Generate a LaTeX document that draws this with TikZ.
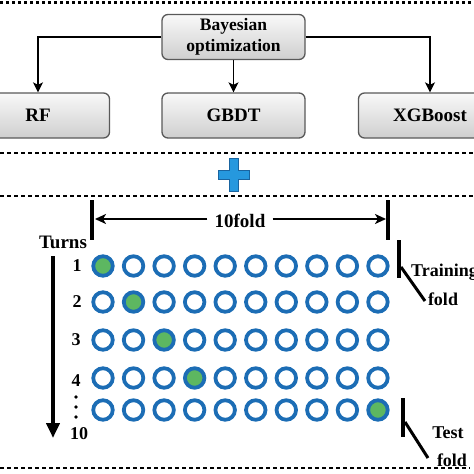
\documentclass[tikz,border=0pt]{standalone}
\usepackage{fontspec}
\setmainfont{Liberation Serif}
\usetikzlibrary{arrows.meta}
\definecolor{cblue}{RGB}{28,109,181}
\definecolor{cgreen}{RGB}{93,183,97}
\definecolor{pfill}{RGB}{38,152,222}
\definecolor{pedge}{RGB}{25,100,160}
\begin{document}
\begin{tikzpicture}[x=1pt,y=-1pt,
 box/.style={draw=black!65, line width=1.3pt, rounded corners=6pt, top color=gray!5, bottom color=gray!38, minimum width=143pt, minimum height=45pt, inner sep=0pt, align=center, font=\fontsize{19}{21}\selectfont\bfseries},
 conn/.style={line width=1.4pt, -{Stealth[length=10pt,width=10pt,inset=2.5pt]}},
 ring/.style={circle, draw=cblue, line width=3.8pt, minimum size=19.5pt, inner sep=0pt, fill=white},
 hit/.style={ring, fill=cgreen},
 lbl/.style={font=\fontsize{18}{20}\selectfont\bfseries, inner sep=0pt},
 bar/.style={line width=3.5pt},
 sep/.style={line width=1.4pt, dash pattern=on 4pt off 3pt}]
\useasboundingbox (0,0) rectangle (474,474);
% separators
\draw[line width=3pt, dash pattern=on 3pt off 3pt] (0,2) -- (474,2);
\draw[sep] (0,153) -- (474,153);
\draw[sep] (0,196) -- (474,196);
\draw[sep] (0,468) -- (470,468);
% boxes
\node[box, font=\fontsize{17.5}{21.5}\selectfont\bfseries] (bo) at (233.5,37) {Bayesian\\optimization};
\node[box] (rf) at (38,115.5) {RF};
\node[box] (gb) at (233.5,115.5) {GBDT};
\node[box] (xg) at (430,115.5) {XGBoost};
\draw[conn] (bo.west) -| (rf.north);
\draw[conn] (bo.south) -- (gb.north);
\draw[conn] (bo.east) -| (xg.north);
% plus
\draw[draw=pedge, fill=pfill, line width=0.8pt] (229,158) -- (238,158) -- (238,170) -- (249,170) -- (249,179) -- (238,179) -- (238,191) -- (229,191) -- (229,179) -- (218,179) -- (218,170) -- (229,170) -- cycle;
% 10fold
\coordinate (lbt) at (92,200); \coordinate (lbb) at (92,240);
\coordinate (rbt) at (388,200); \coordinate (rbb) at (388,240);
\draw[bar] (lbt) -- (lbb);
\draw[bar] (rbt) -- (rbb);
\coordinate (la) at (95,219); \coordinate (ra) at (386,219);
\node[lbl, font=\fontsize{19}{21}\selectfont\bfseries, inner xsep=7pt] (tf) at (240,221) {10fold};
\draw[line width=2.8pt, -{Stealth[length=11pt,width=10pt,inset=3pt]}] (tf.west |- la) -- (la);
\draw[line width=2.8pt, -{Stealth[length=11pt,width=10pt,inset=3pt]}] (tf.east |- ra) -- (ra);
% turns
\node[lbl, font=\fontsize{19}{21}\selectfont\bfseries] (turns) at (63,242) {Turns};
\coordinate (ts) at (53,256); \coordinate (te) at (53,438);
\draw[line width=4pt, -{Triangle[length=15pt,width=13pt]}] (ts) -- (te);
\node[lbl] (n1) at (77,266) {1};
\node[lbl] (n2) at (77,302) {2};
\node[lbl] (n3) at (76,340) {3};
\node[lbl] (n4) at (76,381) {4};
\foreach \yy [count=\k] in {397,407,417} \fill (76,\yy) circle (1.8pt);
\node[lbl] (n10) at (79,434) {10};
% circles
\foreach \r/\yy/\h in {1/266/1,2/302/2,3/340/3,4/378/4,5/410/10}{
  \foreach \c in {1,...,10}{
    \pgfmathtruncatemacro{\hh}{\c==\h ? 1 : 0}
    \ifnum\hh=1
      \node[hit] (c\r-\c) at ({103+30.55*(\c-1)},\yy) {};
    \else
      \node[ring] (c\r-\c) at ({103+30.55*(\c-1)},\yy) {};
    \fi
  }
}
% training fold
\coordinate (trt) at (399,240); \coordinate (trb) at (399,278);
\draw[bar] (trt) -- (trb);
\coordinate (tr1) at (401,267); \coordinate (tr2) at (425,301);
\draw[line width=3pt] (tr1) -- (tr2);
\node[lbl, anchor=west] (train) at (411,272) {Training};
\node[lbl] (fold1) at (443,299) {fold};
% test fold
\coordinate (tst) at (403,398); \coordinate (tsb) at (403,437);
\draw[bar] (tst) -- (tsb);
\coordinate (ts1) at (405,422); \coordinate (ts2) at (428,458);
\draw[line width=3pt] (ts1) -- (ts2);
\node[lbl] (test) at (448,433) {Test};
\node[lbl] (fold2) at (452,460) {fold};
\end{tikzpicture}
\end{document}
